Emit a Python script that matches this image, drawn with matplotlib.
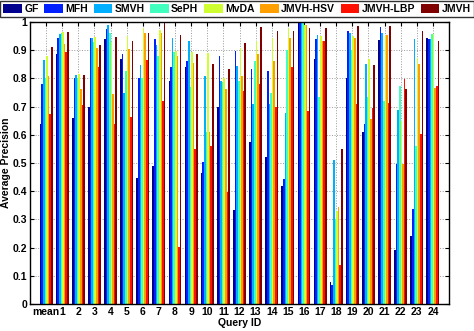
import matplotlib
matplotlib.use("Agg")
import matplotlib.pyplot as plt
import numpy as np

plt.rcParams["font.family"] = ["Liberation Sans", "DejaVu Sans"]

categories = ["mean"] + [str(i) for i in range(1, 25)]
series_names = ["GF", "MFH", "SMVH", "SePH", "MvDA", "JMVH-HSV", "JMVH-LBP", "JMVH"]

GF = [0.64, 0.886, 0.66, 0.70, 0.939, 0.868, 0.446, 0.489, 0.792, 0.839, 0.463, 0.697, 0.333,
      0.574, 0.52, 0.42, 1.0, 0.868, 0.078, 0.803, 0.609, 0.935, 0.191, 0.24, 0.945]
MFH = [0.78, 0.945, 0.803, 0.945, 0.974, 0.886, 0.80, 0.939, 0.839, 0.862, 0.505, 0.88, 0.898,
       0.833, 0.827, 0.443, 1.0, 0.938, 0.068, 0.968, 0.638, 0.981, 0.497, 0.338, 0.941]
SMVH = [0.865, 0.956, 0.813, 0.945, 0.988, 0.75, 0.847, 0.917, 0.944, 0.933, 0.809, 0.792, 0.845,
        0.709, 0.709, 0.676, 0.998, 0.954, 0.509, 0.962, 0.85, 0.962, 0.687, 0.939, 0.939]
SePH = [0.80, 0.96, 0.80, 0.93, 0.96, 0.827, 0.80, 0.88, 0.892, 0.768, 0.609, 0.786, 0.792,
        0.862, 0.75, 0.90, 0.995, 0.733, 0.30, 0.90, 0.733, 0.72, 0.774, 0.562, 0.956]
MvDA = [0.88, 0.965, 0.815, 0.948, 0.93, 0.95, 0.978, 0.972, 0.897, 0.895, 0.891, 0.80, 0.909,
        0.933, 0.944, 0.978, 0.99, 0.95, 0.33, 0.949, 0.868, 0.95, 0.65, 0.874, 0.958]
JMVH_HSV = [0.81, 0.921, 0.762, 0.909, 0.744, 0.903, 0.96, 0.961, 0.88, 0.856, 0.609, 0.762, 0.809,
            0.886, 0.862, 0.944, 0.99, 0.933, 0.345, 0.944, 0.655, 0.955, 0.497, 0.85, 0.765]
JMVH_LBP = [0.675, 0.892, 0.706, 0.841, 0.638, 0.662, 0.865, 0.721, 0.203, 0.55, 0.562, 0.398, 0.756,
            0.779, 0.697, 0.839, 0.686, 0.933, 0.138, 0.709, 0.696, 0.713, 0.797, 0.603, 0.774]
JMVH = [0.91, 0.965, 0.812, 0.918, 0.947, 0.933, 0.962, 0.995, 0.954, 0.887, 0.85, 0.832, 0.927,
        0.982, 0.968, 0.968, 0.98, 0.979, 0.55, 0.985, 0.848, 0.985, 0.762, 0.968, 0.932]

series = [GF, MFH, SMVH, SePH, MvDA, JMVH_HSV, JMVH_LBP, JMVH]
yticks = [0, 0.1, 0.2, 0.3, 0.4, 0.5, 0.6, 0.7, 0.8, 0.9, 1]
ytick_labels = ["0", "0.1", "0.2", "0.3", "0.4", "0.5", "0.6", "0.7", "0.8", "0.9", "1"]

# MATLAB jet(64) sampled for 8 series
colors = [(0, 0, 0.5625), (0, 0.125, 1), (0, 0.6875, 1), (0.25, 1, 0.75),
          (0.8125, 1, 0.1875), (1, 0.625, 0), (1, 0.0625, 0), (0.5, 0, 0)]

fig = plt.figure(figsize=(4.74, 3.31), dpi=100)
ax = fig.add_axes([30 / 474, 1 - 304 / 331, 419 / 474, 282 / 331])

x = np.arange(len(categories))
n = len(series)
w = 0.8 / n
handles = []
for i, (vals, c, name) in enumerate(zip(series, colors, series_names)):
    h = ax.bar(x + (i - (n - 1) / 2) * w, vals, width=w, color=c, edgecolor="none",
               linewidth=0, label=name, zorder=2)
    handles.append(h)

ax.set_xlim(-1, len(categories))
ax.set_ylim(0, 1)
ax.set_xticks(x)
ax.set_xticklabels(categories, fontsize=7.5, fontweight="bold")
ax.set_yticks(yticks)
ax.set_yticklabels(ytick_labels, fontsize=7.5, fontweight="bold")
ax.tick_params(direction="in", top=True, right=True, length=3, width=0.8, pad=2)
ax.grid(True, linestyle=":", color="#999999", linewidth=0.7, zorder=0)
ax.set_axisbelow(True)
for s in ax.spines.values():
    s.set_linewidth(1.0)
ax.set_xlabel("Query ID", fontsize=7.5, fontweight="bold", labelpad=1)
ax.set_ylabel("Average Precision", fontsize=7.5, fontweight="bold")
ax.yaxis.set_label_coords(-0.045, 0.5)

leg = fig.legend(handles, series_names, loc="upper center",
                 bbox_to_anchor=(0.5, 1 - 1 / 331),
                 ncol=8, frameon=True, fancybox=False,
                 edgecolor="black", handlelength=1.8, handleheight=0.9,
                 handletextpad=0.2, columnspacing=0.55, borderpad=0.3,
                 borderaxespad=0, prop={"size": 7.5, "weight": "bold"})
leg.get_frame().set_linewidth(1.0)

fig.savefig("out.png", dpi=100)
